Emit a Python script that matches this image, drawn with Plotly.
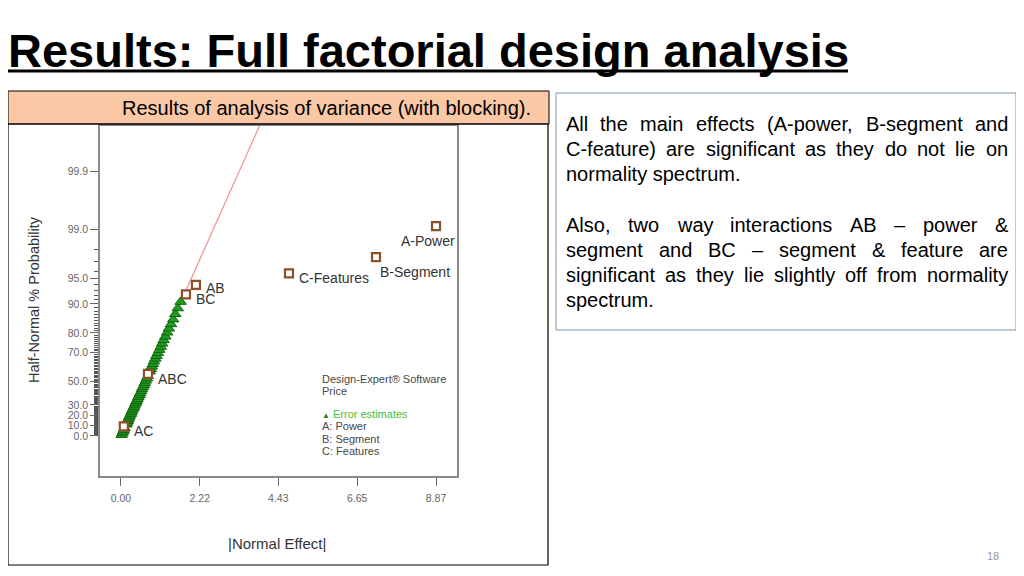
import plotly.graph_objects as go
from statistics import NormalDist

# labelled effects (half-normal plot, response: Price)
terms = ["A-Power", "B-Segment", "C-Features", "AB", "BC", "ABC", "AC"]
term_effect = [8.87, 7.18, 4.73, 2.11, 1.83, 0.76, 0.08]
term_prob = [99.1, 97.4, 95.7, 94.0, 92.2, 56.0, 9.5]

# error estimates (green triangles)
error_effect = [0.02, 0.04, 0.06, 0.08, 0.10, 0.15, 0.17, 0.19, 0.21, 0.23,
                0.25, 0.28, 0.30, 0.32, 0.35, 0.37, 0.39, 0.42, 0.44, 0.47,
                0.49, 0.52, 0.54, 0.57, 0.59, 0.62, 0.65, 0.67, 0.70, 0.73,
                0.76, 0.81, 0.84, 0.87, 0.90, 0.93, 0.97, 1.00, 1.04, 1.08,
                1.12, 1.16, 1.20, 1.25, 1.30, 1.35, 1.41, 1.47, 1.53, 1.60,
                1.68]
error_prob = [0.9, 2.6, 4.3, 6.0, 7.8, 11.2, 12.9, 14.7, 16.4, 18.1,
              19.8, 21.6, 23.3, 25.0, 26.7, 28.4, 30.2, 31.9, 33.6, 35.3,
              37.1, 38.8, 40.5, 42.2, 44.0, 45.7, 47.4, 49.1, 50.9, 52.6,
              54.3, 57.8, 59.5, 61.2, 62.9, 64.7, 66.4, 68.1, 69.8, 71.6,
              73.3, 75.0, 76.7, 78.4, 80.2, 81.9, 83.6, 85.3, 87.1, 88.8,
              90.5]

# reference line through the error estimates
fit_effect = [0.0, 4.6]
fit_slope = 0.99

x_ticks = [0.00, 2.22, 4.43, 6.65, 8.87]
y_ticks = [0.0, 10.0, 20.0, 30.0, 50.0, 70.0, 80.0, 90.0, 95.0, 99.0, 99.9]

legend_lines = ["Design-Expert® Software", "Price", "", "Error estimates",
                "A: Power", "B: Segment", "C: Features"]

body_lines = [
    ("All the main effects (A-power, B-segment and", True),
    ("C-feature) are significant as they do not lie on", True),
    ("normality spectrum.", False),
    ("Also, two way interactions AB – power &", True),
    ("segment and BC – segment & feature are", True),
    ("significant as they lie slightly off from normality", True),
    ("spectrum.", False),
]
body_y = [124, 149, 174, 225, 250, 275, 300]

# the page body has an 8px margin, so the figure is 8px smaller
# and every slide position is shifted back by 8px
OFF = 8
W, H = 1024 - OFF, 576 - OFF
FONT = "Liberation Sans, Arial, sans-serif"

# Arial advance widths, only used to justify the text box lines
AW = {' ': 278, 'A': 667, 'B': 667, 'C': 722, 'a': 556, 'b': 556, 'c': 500,
      'd': 556, 'e': 556, 'f': 278, 'g': 556, 'h': 556, 'i': 222, 'l': 222,
      'm': 833, 'n': 556, 'o': 556, 'p': 556, 'r': 333, 's': 500, 't': 278,
      'u': 556, 'w': 722, 'y': 500, '(': 333, ')': 333, '-': 333, ',': 278,
      '.': 278, '–': 556, '&': 667}


def px(x):
    return (x - OFF) / W


def py(y):
    return 1 - (y - OFF) / H


def hn(p):
    # half-normal quantile of a % probability
    return NormalDist().inv_cdf((1 + p / 100.0) / 2)


def text_w(s, size):
    return sum(AW.get(c, 556) for c in s) * size / 1000.0


fig = go.Figure()

fig.add_trace(go.Scatter(x=fit_effect, y=[fit_slope * e for e in fit_effect],
                         mode="lines", line=dict(color="#EF9696", width=1.3),
                         hoverinfo="skip", showlegend=False))
fig.add_trace(go.Scatter(x=error_effect, y=[hn(p) for p in error_prob],
                         mode="markers", showlegend=False,
                         marker=dict(symbol="triangle-up", size=10, color="#229A22",
                                     line=dict(color="#0E640E", width=1))))
fig.add_trace(go.Scatter(x=term_effect, y=[hn(p) for p in term_prob],
                         mode="markers", showlegend=False,
                         marker=dict(symbol="square", size=8, color="white",
                                     line=dict(color="#8C5028", width=2.2))))

label_pos = {
    "A-Power": ("right", 21, -15),
    "B-Segment": ("left", 2, -15),
    "C-Features": ("left", 8, -5),
    "AB": ("left", 8, -3),
    "BC": ("left", 8, -5),
    "ABC": ("left", 8, -5),
    "AC": ("left", 8, -5),
}
for t, e, p in zip(terms, term_effect, term_prob):
    xa, xs, ys = label_pos[t]
    fig.add_annotation(x=e, y=hn(p), xref="x", yref="y", text=t, showarrow=False,
                       xanchor=xa, yanchor="middle", xshift=xs, yshift=ys,
                       font=dict(family=FONT, size=14, color="#333333"))

# legend block inside the plot
leg_y = [379, 391, 403, 414, 426, 439, 451]
for txt, yy in zip(legend_lines, leg_y):
    if not txt:
        continue
    if txt == "Error estimates":
        txt = ("<span style='font-size:8px;color:#1E7F1E'>▲</span> "
               "<span style='color:#3DC23D'>Error estimates</span>")
    fig.add_annotation(x=px(320), y=py(yy), xref="paper", yref="paper", text=txt,
                       showarrow=False, xanchor="left", yanchor="middle",
                       font=dict(family=FONT, size=11, color="#484848"))

# axis titles
fig.add_annotation(x=px(277), y=py(543), xref="paper", yref="paper",
                   text="|Normal Effect|", showarrow=False,
                   xanchor="center", yanchor="middle",
                   font=dict(family=FONT, size=15, color="#333333"))
fig.add_annotation(x=px(34), y=py(300), xref="paper", yref="paper",
                   text="Half-Normal % Probability", showarrow=False, textangle=-90,
                   xanchor="center", yanchor="middle",
                   font=dict(family=FONT, size=14.5, color="#333333"))

# slide title
fig.add_annotation(x=px(6), y=py(51), xref="paper", yref="paper",
                   text="<b>Results: Full factorial design analysis</b>",
                   showarrow=False, xanchor="left", yanchor="middle",
                   font=dict(family=FONT, size=47, color="black"))
fig.add_shape(type="line", xref="paper", yref="paper", x0=px(8), x1=px(848),
              y0=py(71), y1=py(71), line=dict(color="black", width=3))

# header strip above the picture
fig.add_shape(type="rect", xref="paper", yref="paper", x0=px(8), x1=px(549),
              y0=py(124), y1=py(91), fillcolor="#FAC8A5",
              line=dict(color="black", width=1))
fig.add_annotation(x=px(533), y=py(108), xref="paper", yref="paper",
                   text="Results of analysis of variance (with blocking).",
                   showarrow=False, xanchor="right", yanchor="middle",
                   font=dict(family=FONT, size=20, color="black"))
fig.add_shape(type="rect", xref="paper", yref="paper", x0=px(8), x1=px(548),
              y0=py(565), y1=py(124), line=dict(color="black", width=1.2))

# text box on the right
fig.add_shape(type="rect", xref="paper", yref="paper", x0=px(556), x1=px(1016),
              y0=py(330), y1=py(93), line=dict(color="#7A96B0", width=1))
left, right, fs = 565, 1007, 20
for (line, justify), yy in zip(body_lines, body_y):
    words = line.split(" ")
    if justify and len(words) > 1:
        widths = [text_w(w, fs) for w in words]
        gap = (right - left - sum(widths)) / (len(words) - 1)
        xx = left
        for w, ww in zip(words, widths):
            fig.add_annotation(x=px(xx), y=py(yy), xref="paper", yref="paper",
                               text=w.replace("&", "&amp;"), showarrow=False,
                               xanchor="left", yanchor="middle", borderpad=0,
                               font=dict(family=FONT, size=fs, color="black"))
            xx += ww + gap
    else:
        fig.add_annotation(x=px(left), y=py(yy), xref="paper", yref="paper",
                           text=line, showarrow=False, xanchor="left",
                           yanchor="middle", borderpad=0,
                           font=dict(family=FONT, size=fs, color="black"))

fig.add_annotation(x=px(993), y=py(556), xref="paper", yref="paper", text="18",
                   showarrow=False, xanchor="center", yanchor="middle",
                   font=dict(family=FONT, size=11, color="#999999"))

minor_p = [v for v in range(1, 99) if v not in y_ticks]

fig.update_layout(
    width=W, height=H, margin=dict(l=0, r=0, t=0, b=0),
    paper_bgcolor="white", plot_bgcolor="white",
    xaxis=dict(domain=[px(100), px(457)], range=[-0.59, 9.46],
               tickvals=x_ticks, ticktext=["%.2f" % v for v in x_ticks],
               ticks="outside", ticklen=8, tickcolor="#666666", ticklabelstandoff=4,
               tickfont=dict(family=FONT, size=10.5, color="#666666"),
               showline=True, linecolor="#8A8A8A", linewidth=1.5, mirror=True,
               showgrid=False, zeroline=False),
    yaxis=dict(domain=[py(476), py(126)], range=[-0.5, 3.86],
               tickvals=[hn(v) for v in y_ticks],
               ticktext=["%.1f" % v for v in y_ticks],
               ticks="outside", ticklen=8, tickcolor="#666666",
               tickfont=dict(family=FONT, size=10.5, color="#666666"),
               minor=dict(tickvals=[hn(v) for v in minor_p], ticks="outside",
                          ticklen=4, tickcolor="#555555"),
               showline=True, linecolor="#8A8A8A", linewidth=1.5, mirror=True,
               showgrid=False, zeroline=False),
)

fig.write_html("out.html")
